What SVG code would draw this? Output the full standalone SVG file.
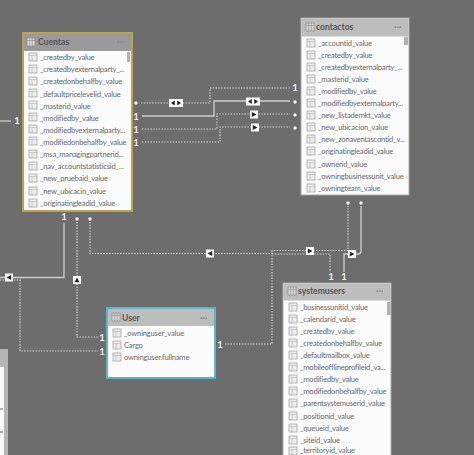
<svg xmlns="http://www.w3.org/2000/svg" width="474" height="455" viewBox="0 0 474 455">
<style>
text{font-family:Lato,"Liberation Sans",sans-serif}
.t{font-size:7.600px;letter-spacing:-.2px;fill:#6a6a6a}
.h{font-size:8.600px;font-weight:700;fill:#555}
.d{font-size:9px;font-weight:700;fill:#8a8a8a}
.n{font-size:9.500px;font-weight:700;fill:#f2f2f2;text-anchor:middle}
.body{fill:#fbfbfb}
.head{fill:#bdbdbd}
.dot{fill:none;stroke:#d8d8d8;stroke-width:1.2;stroke-dasharray:1.4 1.4}
.sol{fill:none;stroke:#cfcfcf;stroke-width:1.300}
.end{fill:#f2f2f2}
.mk{fill:#fbfbfb}
.ar{fill:#222}
.sb{fill:#b0b0b0}
</style>
<defs>
<g id="ic"><rect x="0" y="0" width="8" height="8" fill="#ececec" stroke="#a5a5a5" stroke-width=".8"/><path d="M0 2.500H8M3 2.500V8" stroke="#b5b5b5" stroke-width=".6" fill="none"/></g>
<g id="hic"><rect x="0" y="0" width="8" height="8" fill="#d8d8d8" stroke="#8a8a8a" stroke-width=".7"/><path d="M2.700 0V8M5.300 0V8M0 2.500H8" stroke="#8a8a8a" stroke-width=".6" fill="none"/></g>
<g id="r"><rect x="-4" y="-4" width="8" height="8" class="mk"/><path d="M-2.200 -2.500L2.500 0L-2.200 2.500Z" class="ar"/></g>
<g id="l"><rect x="-4" y="-4" width="8" height="8" class="mk"/><path d="M2.200 -2.500L-2.500 0L2.200 2.500Z" class="ar"/></g>
<g id="u"><rect x="-4" y="-4" width="8" height="8" class="mk"/><path d="M-2.500 2.200L0 -2.500L2.500 2.200Z" class="ar"/></g>
<g id="b"><rect x="-7" y="-4" width="14" height="8" class="mk"/><path d="M-1.200 -2.500L-5 0L-1.200 2.500ZM1.200 -2.500L5 0L1.200 2.500Z" class="ar"/></g>
</defs>
<rect width="474" height="455" fill="#6d6d6d"/>

<g id="connectors">
<path class="sol" d="M0 121H11"/>
<path class="dot" d="M141 103H210V88H290"/>
<path class="sol" d="M142 116H214V101H290"/>
<path class="dot" d="M142 129H217V114H290"/>
<path class="dot" d="M142 142H220V127H290"/>
<path class="sol" d="M64 223V277.500H0"/>
<path class="dot" d="M0 280H20V351H98"/>
<path class="dot" d="M77 222V337H98"/>
<path class="dot" d="M90 222V253.500H272V250.500H348V206"/>
<path class="dot" d="M225 344H272V254H330V272"/>
<path class="sol" d="M344 272V254H358Q361 254 361 251V206"/>
<use href="#b" x="176" y="103"/>
<use href="#b" x="253" y="101.500"/>
<use href="#r" x="254" y="114.500"/>
<use href="#r" x="255" y="127.500"/>
<use href="#l" x="9" y="277.500"/>
<use href="#u" x="77" y="280"/>
<use href="#l" x="210" y="253.500"/>
<use href="#r" x="310" y="251"/>
<use href="#r" x="352" y="254"/>
<circle class="end" cx="136" cy="103" r="1.700"/>
<circle class="end" cx="295" cy="102" r="1.700"/>
<circle class="end" cx="295" cy="115" r="1.700"/>
<circle class="end" cx="295" cy="128" r="1.700"/>
<circle class="end" cx="77" cy="219" r="1.700"/>
<circle class="end" cx="90" cy="219" r="1.700"/>
<circle class="end" cx="348" cy="203" r="1.700"/>
<circle class="end" cx="361" cy="203" r="1.700"/>
<text class="n" x="17" y="124">1</text>
<text class="n" x="136" y="119.500">1</text>
<text class="n" x="136" y="132.500">1</text>
<text class="n" x="136" y="145.500">1</text>
<text class="n" x="295" y="91">1</text>
<text class="n" x="64" y="220">1</text>
<text class="n" x="102" y="341">1</text>
<text class="n" x="102" y="355">1</text>
<text class="n" x="220" y="348">1</text>
<text class="n" x="331" y="280">1</text>
<text class="n" x="344" y="280">1</text>
</g>

<g id="node-cuentas">
<rect x="23" y="33" width="109" height="178" class="body" stroke="#bda24f" stroke-width="2"/>
<rect x="24" y="34" width="107" height="17" fill="#9a9a9a"/>
<use href="#hic" x="27" y="38"/>
<text class="h" x="38" y="45">Cuentas</text>
<text class="d" x="117" y="45">···</text>
<rect class="sb" x="127" y="52" width="3" height="10"/>
<use href="#ic" x="29" y="53"/><text class="t" x="40" y="60">_createdby_value</text>
<use href="#ic" x="29" y="65"/><text class="t" x="40" y="72">_createdbyexternalparty_...</text>
<use href="#ic" x="29" y="77"/><text class="t" x="40" y="84">_createdonbehalfby_value</text>
<use href="#ic" x="29" y="89"/><text class="t" x="40" y="97">_defaultpricelevelid_value</text>
<use href="#ic" x="29" y="101"/><text class="t" x="40" y="109">_masterid_value</text>
<use href="#ic" x="29" y="113"/><text class="t" x="40" y="121">_modifiedby_value</text>
<use href="#ic" x="29" y="125"/><text class="t" x="40" y="133">_modifiedbyexternalparty...</text>
<use href="#ic" x="29" y="137"/><text class="t" x="40" y="145">_modifiedonbehalfby_value</text>
<use href="#ic" x="29" y="150"/><text class="t" x="40" y="157">_msa_managingpartnerid...</text>
<use href="#ic" x="29" y="162"/><text class="t" x="40" y="169">_nav_accountstatisticsid_...</text>
<use href="#ic" x="29" y="174"/><text class="t" x="40" y="181">_new_pruebaid_value</text>
<use href="#ic" x="29" y="187"/><text class="t" x="40" y="194">_new_ubicacin_value</text>
<use href="#ic" x="29" y="199"/><text class="t" x="40" y="206">_originatingleadid_value</text>
</g>

<g id="node-contactos">
<rect x="301" y="18" width="108" height="177" class="body" stroke="#a8a8a8" stroke-width="1"/>
<rect x="301.500" y="18.500" width="107" height="18" class="head"/>
<use href="#hic" x="306" y="23"/>
<text class="h" x="316" y="30">contactos</text>
<text class="d" x="394" y="30">···</text>
<rect class="sb" x="404" y="37" width="4" height="8"/>
<use href="#ic" x="307" y="39"/><text class="t" x="318" y="46">_accountid_value</text>
<use href="#ic" x="307" y="51"/><text class="t" x="318" y="58">_createdby_value</text>
<use href="#ic" x="307" y="63"/><text class="t" x="318" y="70">_createdbyexternalparty_...</text>
<use href="#ic" x="307" y="75"/><text class="t" x="318" y="82">_masterid_value</text>
<use href="#ic" x="307" y="87"/><text class="t" x="318" y="94">_modifiedby_value</text>
<use href="#ic" x="307" y="99"/><text class="t" x="318" y="106">_modifiedbyexternalparty...</text>
<use href="#ic" x="307" y="111"/><text class="t" x="318" y="118">_new_listademkt_value</text>
<use href="#ic" x="307" y="123"/><text class="t" x="318" y="130">_new_ubicacion_value</text>
<use href="#ic" x="307" y="135"/><text class="t" x="318" y="142">_new_zonaventascontid_v...</text>
<use href="#ic" x="307" y="147"/><text class="t" x="318" y="154">_originatingleadid_value</text>
<use href="#ic" x="307" y="160"/><text class="t" x="318" y="167">_ownerid_value</text>
<use href="#ic" x="307" y="172"/><text class="t" x="318" y="179">_owningbusinessunit_value</text>
<use href="#ic" x="307" y="184"/><text class="t" x="318" y="191">_owningteam_value</text>
</g>

<g id="node-systemusers">
<rect x="283" y="283" width="108" height="173" class="body" stroke="#a8a8a8" stroke-width="1"/>
<rect x="283.500" y="283.500" width="107" height="17" class="head"/>
<use href="#hic" x="288" y="287"/>
<text class="h" x="298" y="294">systemusers</text>
<text class="d" x="376" y="294">···</text>
<rect class="sb" x="387" y="302" width="3.500" height="13"/>
<use href="#ic" x="289" y="303"/><text class="t" x="300" y="310">_businessunitid_value</text>
<use href="#ic" x="289" y="315"/><text class="t" x="300" y="322">_calendarid_value</text>
<use href="#ic" x="289" y="327"/><text class="t" x="300" y="334">_createdby_value</text>
<use href="#ic" x="289" y="339"/><text class="t" x="300" y="346">_createdonbehalfby_value</text>
<use href="#ic" x="289" y="351"/><text class="t" x="300" y="358">_defaultmailbox_value</text>
<use href="#ic" x="289" y="363"/><text class="t" x="300" y="370">_mobileofflineprofileid_va...</text>
<use href="#ic" x="289" y="375"/><text class="t" x="300" y="382">_modifiedby_value</text>
<use href="#ic" x="289" y="387"/><text class="t" x="300" y="394">_modifiedonbehalfby_value</text>
<use href="#ic" x="289" y="399"/><text class="t" x="300" y="406">_parentsystemuserid_value</text>
<use href="#ic" x="289" y="412"/><text class="t" x="300" y="419">_positionid_value</text>
<use href="#ic" x="289" y="424"/><text class="t" x="300" y="431">_queueid_value</text>
<use href="#ic" x="289" y="436"/><text class="t" x="300" y="443">_siteid_value</text>
<use href="#ic" x="289" y="447"/><text class="t" x="300" y="453">_territoryid_value</text>
</g>

<g id="node-user">
<rect x="107" y="308" width="108" height="70" class="body" stroke="#5fb3c9" stroke-width="2"/>
<rect x="108" y="309" width="106" height="17" class="head"/>
<use href="#hic" x="112" y="313"/>
<text class="h" x="122" y="321">User</text>
<text class="d" x="200" y="321">···</text>
<use href="#ic" x="113" y="329"/><text class="t" x="124" y="336">_owninguser_value</text>
<use href="#ic" x="113" y="341"/><text class="t" x="124" y="348">Cargo</text>
<use href="#ic" x="113" y="353"/><text class="t" x="124" y="360">owninguser.fullname</text>
</g>

<g id="node-partial">
<rect x="0" y="349" width="8" height="106" fill="#b5b5b5"/>
<rect x="0" y="367" width="4" height="88" class="body"/>
<path d="M0 409H3M0 432H3" stroke="#666" stroke-width="1"/>
</g>
</svg>
